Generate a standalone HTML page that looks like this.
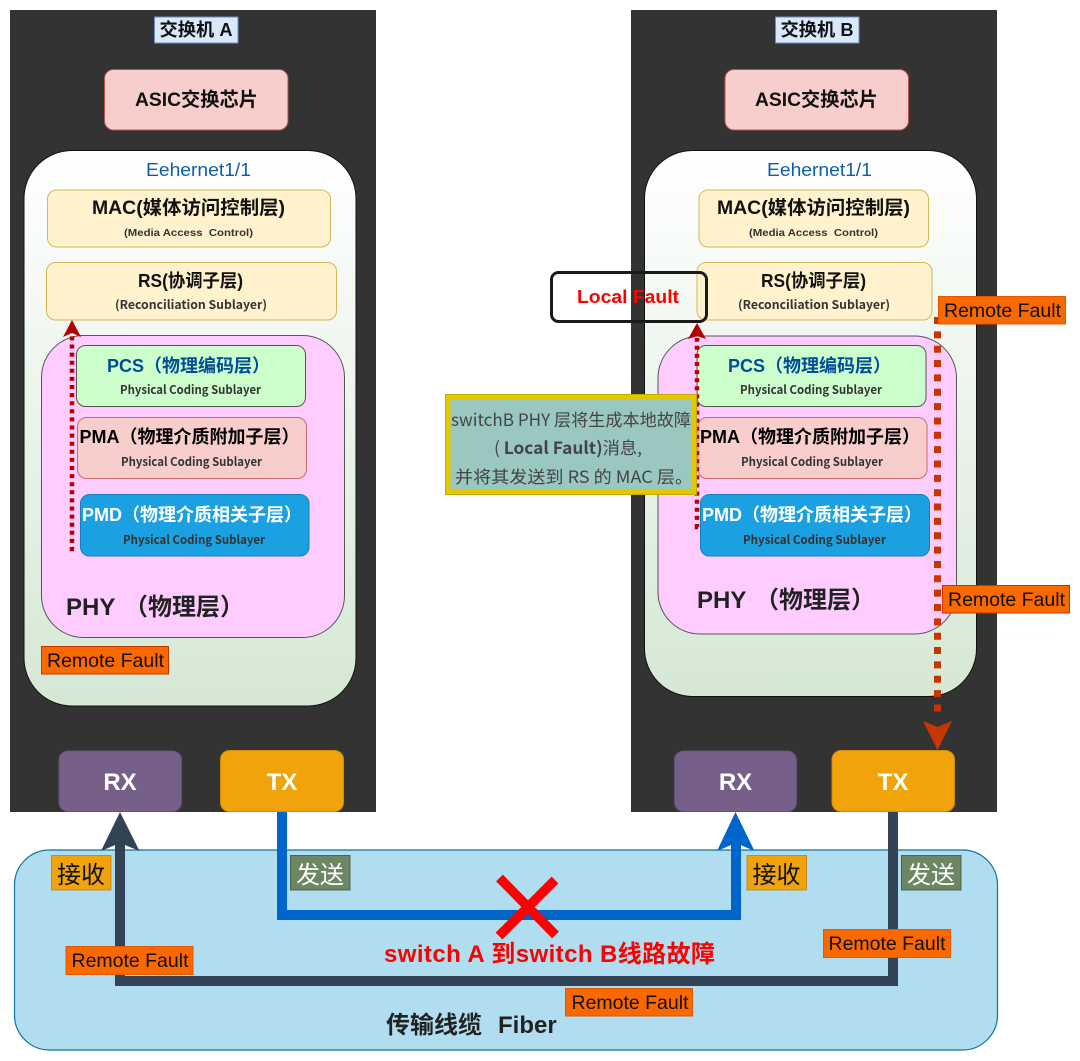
<!DOCTYPE html>
<html><head><meta charset="utf-8"><title>Switch fault diagram</title>
<style>
html,body{margin:0;padding:0;background:#fff}
svg{display:block;filter:blur(.35px)}
text{font-family:"Liberation Sans","Noto Sans CJK SC",sans-serif;font-weight:bold}
.rf{font-weight:normal;font-size:19.500px;fill:#111}
.s{fill:#333;font-size:12px;font-family:"Noto Sans CJK SC","Liberation Sans",sans-serif}
.nt{font-family:"Noto Sans CJK SC","Liberation Sans",sans-serif;font-weight:normal;font-size:17px;fill:#444}
.n{font-weight:normal}
</style></head><body>
<svg xmlns="http://www.w3.org/2000/svg" width="1080" height="1061" viewBox="0 0 1080 1061">
<defs><linearGradient id="g" x1="0" y1="0" x2="0" y2="1"><stop offset="0" stop-color="#fff"/><stop offset="1" stop-color="#d5e8d4"/></linearGradient></defs>
<rect width="1080" height="1061" fill="#fff"/>

<!-- Fiber -->
<rect x="14.500" y="850" width="983" height="200" rx="35" fill="#b1ddf0" stroke="#10739e" stroke-width="1.200"/>

<!-- Switch A -->
<rect x="10" y="10" width="366" height="802" fill="#333"/>
<rect x="154.500" y="17" width="83.500" height="26" fill="#dae8fc" stroke="#6c8ebf" stroke-width="1"/>
<text x="159.500" y="36" font-size="18" fill="#111" textLength="73" lengthAdjust="spacingAndGlyphs">交换机 A</text>
<rect x="104.500" y="69.500" width="183.500" height="60.500" rx="9" fill="#f8cecc" stroke="#b85450"/>
<text x="135" y="106" font-size="19.500" fill="#111" textLength="123" lengthAdjust="spacingAndGlyphs">ASIC交换芯片</text>
<rect x="24" y="150.500" width="332" height="555.500" rx="48" fill="url(#g)" stroke="#111"/>
<text x="146" y="176" font-size="18" fill="#0f5ea8" class="n" textLength="105" lengthAdjust="spacingAndGlyphs">Eehernet1/1</text>
<rect x="47.500" y="190" width="283" height="57" rx="9" fill="#fff2cc" stroke="#d6b656"/>
<text x="92" y="214" font-size="19" fill="#111" textLength="193" lengthAdjust="spacingAndGlyphs">MAC(媒体访问控制层)</text>
<text x="124" y="236" font-size="10.500" fill="#333" textLength="129" lengthAdjust="spacingAndGlyphs" xml:space="preserve">(Media Access  Control)</text>
<rect x="46.500" y="262.500" width="290" height="57.500" rx="9" fill="#fff2cc" stroke="#d6b656"/>
<text x="138" y="287" font-size="18" fill="#111" textLength="105" lengthAdjust="spacingAndGlyphs">RS(协调子层)</text>
<text x="115" y="309" class="s" fill="#444" textLength="152" lengthAdjust="spacingAndGlyphs">(Reconciliation Sublayer)</text>
<rect x="41.500" y="335.500" width="303" height="302" rx="42" fill="#ffccff" stroke="#555"/>
<rect x="76.500" y="345.500" width="229" height="61" rx="9" fill="#ccffcc" stroke="#555"/>
<text x="107" y="372" font-size="18" fill="#004c99">PCS（物理编码层）</text>
<text x="120" y="394" class="s" textLength="141" lengthAdjust="spacingAndGlyphs">Physical Coding Sublayer</text>
<rect x="77.500" y="417.500" width="229" height="61" rx="9" fill="#f8cecc" stroke="#b85450" stroke-opacity=".8"/>
<text x="79.500" y="443" font-size="18" fill="#000">PMA（物理介质附加子层）</text>
<text x="121" y="466" class="s" textLength="141" lengthAdjust="spacingAndGlyphs">Physical Coding Sublayer</text>
<rect x="80.500" y="494.500" width="228.500" height="61.500" rx="9" fill="#1ba1e2" stroke="#1180c0"/>
<text x="82" y="521" font-size="18" fill="#fff">PMD（物理介质相关子层）</text>
<text x="123" y="544" class="s" textLength="142" lengthAdjust="spacingAndGlyphs">Physical Coding Sublayer</text>
<text x="66" y="615" font-size="24" fill="#222">PHY<tspan x="124">（物理层）</tspan></text>
<path d="M74 549H72V336" fill="none" stroke="#b20000" stroke-width="4.500" stroke-dasharray="4 4.100"/>
<path d="M72 320L81 337L72 333L63 337Z" fill="#b20000"/>
<rect x="41.500" y="646.500" width="127" height="27.500" fill="#fa6800" stroke="#c73500"/>
<text x="47" y="667" class="rf" textLength="117" lengthAdjust="spacingAndGlyphs">Remote Fault</text>
<rect x="59" y="751" width="122.500" height="60.500" rx="9" fill="#76608a" stroke="#65507a"/>
<text x="120" y="790" font-size="24" fill="#fff" text-anchor="middle">RX</text>
<rect x="220.500" y="750.500" width="123" height="61" rx="9" fill="#f0a30a" stroke="#d08a05"/>
<text x="282" y="790" font-size="24" fill="#fff" text-anchor="middle">TX</text>

<!-- Switch B -->
<rect x="631" y="10" width="366" height="802" fill="#333"/>
<rect x="775.500" y="17" width="83.500" height="26" fill="#dae8fc" stroke="#6c8ebf" stroke-width="1"/>
<text x="780.500" y="36" font-size="18" fill="#111" textLength="73" lengthAdjust="spacingAndGlyphs">交换机 B</text>
<rect x="725" y="69.500" width="183.500" height="60.500" rx="9" fill="#f8cecc" stroke="#b85450"/>
<text x="755" y="106" font-size="19.500" fill="#111" textLength="123" lengthAdjust="spacingAndGlyphs">ASIC交换芯片</text>
<rect x="644.500" y="150.500" width="332" height="546" rx="48" fill="url(#g)" stroke="#111"/>
<text x="767" y="176" font-size="18" fill="#0f5ea8" class="n" textLength="105" lengthAdjust="spacingAndGlyphs">Eehernet1/1</text>
<rect x="699" y="190" width="229.500" height="57" rx="9" fill="#fff2cc" stroke="#d6b656"/>
<text x="717" y="214" font-size="19" fill="#111" textLength="193" lengthAdjust="spacingAndGlyphs">MAC(媒体访问控制层)</text>
<text x="749" y="236" font-size="10.500" fill="#333" textLength="129" lengthAdjust="spacingAndGlyphs" xml:space="preserve">(Media Access  Control)</text>
<rect x="697" y="262.500" width="235" height="57.500" rx="9" fill="#fff2cc" stroke="#d6b656"/>
<text x="761" y="287" font-size="18" fill="#111" textLength="105" lengthAdjust="spacingAndGlyphs">RS(协调子层)</text>
<text x="738" y="309" class="s" fill="#444" textLength="152" lengthAdjust="spacingAndGlyphs">(Reconciliation Sublayer)</text>
<rect x="658" y="336" width="298.500" height="298" rx="42" fill="#ffccff" stroke="#555"/>
<rect x="697" y="345.500" width="229" height="61" rx="9" fill="#ccffcc" stroke="#555"/>
<text x="728" y="372" font-size="18" fill="#004c99">PCS（物理编码层）</text>
<text x="740" y="394" class="s" textLength="142" lengthAdjust="spacingAndGlyphs">Physical Coding Sublayer</text>
<rect x="698" y="417.500" width="229" height="61" rx="9" fill="#f8cecc" stroke="#b85450" stroke-opacity=".8"/>
<text x="700" y="443" font-size="18" fill="#000">PMA（物理介质附加子层）</text>
<text x="741" y="466" class="s" textLength="142" lengthAdjust="spacingAndGlyphs">Physical Coding Sublayer</text>
<rect x="700.500" y="494.500" width="229" height="61.500" rx="9" fill="#1ba1e2" stroke="#1180c0"/>
<text x="702" y="521" font-size="18" fill="#fff">PMD（物理介质相关子层）</text>
<text x="743" y="544" class="s" textLength="143" lengthAdjust="spacingAndGlyphs">Physical Coding Sublayer</text>
<text x="697" y="608" font-size="24" fill="#222">PHY<tspan x="755">（物理层）</tspan></text>
<rect x="674.500" y="751" width="122" height="60.500" rx="9" fill="#76608a" stroke="#65507a"/>
<text x="735.500" y="790" font-size="24" fill="#fff" text-anchor="middle">RX</text>
<rect x="832" y="750.500" width="122.500" height="61" rx="9" fill="#f0a30a" stroke="#d08a05"/>
<text x="893" y="790" font-size="24" fill="#fff" text-anchor="middle">TX</text>

<!-- B dotted -->
<path d="M937.500 317V718" fill="none" stroke="#c73500" stroke-width="7" stroke-dasharray="7 7.350"/>
<path d="M937.500 750L923 721L937.500 727L952 721Z" fill="#c73500"/>
<path d="M698 527H697V338" fill="none" stroke="#b20000" stroke-width="4.500" stroke-dasharray="4 4.100"/>
<path d="M697 323L706 339L697 336L688 339Z" fill="#b20000"/>

<!-- Local fault and note -->
<rect x="551.500" y="272.500" width="155" height="49" rx="7" fill="none" stroke="#1a1a1a" stroke-width="3"/>
<text x="577" y="303" font-size="18" fill="#ff0000" textLength="102" lengthAdjust="spacingAndGlyphs">Local Fault</text>
<rect x="448" y="397" width="246" height="95" fill="#9ac7bf" stroke="#e3c800" stroke-width="5"/>
<rect x="445.500" y="394.500" width="251" height="100" fill="none" stroke="#c4a900" stroke-width="1"/>
<text x="451" y="426" class="nt" textLength="240" lengthAdjust="spacingAndGlyphs">switchB PHY 层将生成本地故障</text>
<text x="494" y="454" class="nt" textLength="148" lengthAdjust="spacingAndGlyphs">( <tspan font-weight="bold">Local Fault)</tspan>消息,</text>
<text x="455" y="483" class="nt" textLength="238" lengthAdjust="spacingAndGlyphs">并将其发送到 RS 的 MAC 层。</text>

<!-- Cables -->
<path d="M282 812V915H736V840" fill="none" stroke="#0066cc" stroke-width="10"/>
<path d="M735.500 812L754.500 851L736 843L717 851Z" fill="#0066cc"/>
<path d="M893 812V981H120V840" fill="none" stroke="#314354" stroke-width="10"/>
<path d="M120 812L139.500 851L120 843L101 851Z" fill="#314354"/>
<path d="M499.500 878L555.500 935M555 880L499 936" stroke="#ff0000" stroke-width="9.500" fill="none"/>

<!-- Labels -->
<rect x="51.500" y="855.500" width="59.500" height="34.500" fill="#f0a30a" stroke="#bd7000" stroke-opacity=".7"/>
<text x="57" y="883" font-size="24" fill="#111" class="n">接收</text>
<rect x="290.500" y="855.500" width="59.500" height="34.500" fill="#6d8764" stroke="#3a5431" stroke-opacity=".8"/>
<text x="296" y="883" font-size="24" fill="#fff" class="n">发送</text>
<rect x="747" y="855.500" width="59.500" height="34.500" fill="#f0a30a" stroke="#bd7000" stroke-opacity=".7"/>
<text x="752.500" y="883" font-size="24" fill="#111" class="n">接收</text>
<rect x="901.500" y="855.500" width="59.500" height="34.500" fill="#6d8764" stroke="#3a5431" stroke-opacity=".8"/>
<text x="907" y="883" font-size="24" fill="#fff" class="n">发送</text>

<rect x="938.500" y="296.500" width="127" height="27.500" fill="#fa6800" stroke="#e05800"/>
<text x="944" y="317" class="rf" textLength="117" lengthAdjust="spacingAndGlyphs">Remote Fault</text>
<rect x="942.500" y="585.500" width="127" height="27.500" fill="#fa6800" stroke="#c73500"/>
<text x="948" y="606" class="rf" textLength="117" lengthAdjust="spacingAndGlyphs">Remote Fault</text>
<rect x="66" y="946.500" width="127" height="28" fill="#fa6800" stroke="#e05800"/>
<text x="71.500" y="967" class="rf" textLength="117" lengthAdjust="spacingAndGlyphs">Remote Fault</text>
<rect x="823.500" y="929.500" width="127" height="28" fill="#fa6800" stroke="#e05800"/>
<text x="828.500" y="950" class="rf" textLength="117" lengthAdjust="spacingAndGlyphs">Remote Fault</text>
<rect x="565.500" y="988.500" width="127" height="27.500" fill="#fa6800" stroke="#e05800"/>
<text x="571.500" y="1009" class="rf" textLength="117" lengthAdjust="spacingAndGlyphs">Remote Fault</text>

<text x="384" y="962" font-size="24" fill="#ff0000" textLength="331" lengthAdjust="spacing">switch A 到switch B线路故障</text>
<text x="386" y="1033" font-size="24" fill="#222">传输线缆<tspan x="498">Fiber</tspan></text>
</svg>
</body></html>
